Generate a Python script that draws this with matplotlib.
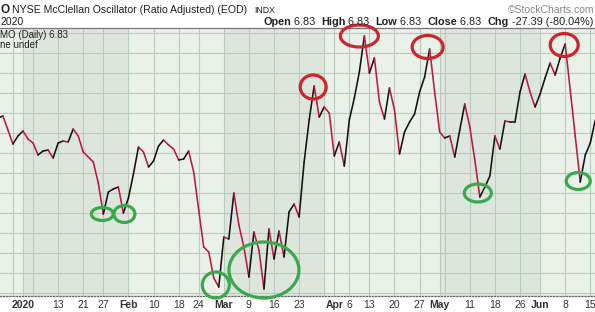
import numpy as np
import matplotlib
matplotlib.use('Agg')
import matplotlib.pyplot as plt
from matplotlib.collections import LineCollection
from matplotlib.patches import Ellipse
from matplotlib.transforms import Affine2D, ScaledTranslation

plt.rcParams['font.family'] = ['Liberation Sans', 'DejaVu Sans']

# ---------------- data ----------------
start_day = -5  # trading-day index of first value (0 = 2 Jan 2020)
mo_values = [17.5, 18.5, 11.5, 4.5, 8.5,
             11, 7, 5, -1, 1, 1.5, -2.5, 5, 6, 5.5, 12, 8.5, 0.5, -2, -4.5, -15, -30.5, -19.5, -18, -17, -30,
             -22.5, -10.5, 3, 0.5, -7, -4, 3.5, 6.5, 4, 2, -3.5, -3, 1, -9.5, -28.5, -47, -49.5, -62.5, -67,
             -42, -43, -20, -36, -47, -62, -39.5, -48.5, -68, -38, -53, -39, -52, -29.5, -25.5, -32, -4.5,
             16.5, 33.5, 18, 23, 20, -1.5, 5.5, -6.5, 16.5, 27.5, 40.5, 58.5, 40, 47.5, 25.5, 17, 32.5, 21.5,
             -0.5, 10.5, 15.5, 19.5, 30.5, 38, 52, 30.5, 10.5, 7.5, 8.5, -2, 11.5, 24.5, 13, -3.5, -22, -17,
             -11.5, 8.5, 2, 16, 15.5, 15.5, 30.5, 39.5, 30.5, 23, 29.5, 37.5, 45, 39, 47.5, 54.5, 31.5, 8.5,
             -14.5, -1, 5, 16.5]

tick_days = [0, 7, 12, 16, 21, 26, 31, 35, 40, 45, 50, 55, 62, 65, 69, 74, 79, 83, 89, 94, 99, 103, 108, 113]
tick_labels = ['2020', '13', '21', '27', 'Feb', '10', '18', '24', 'Mar', '9', '16', '23',
               'Apr', '6', '13', '20', '27', 'May', '11', '18', '26', 'Jun', '8', '15']
month_labels = ['2020', 'Feb', 'Mar', 'Apr', 'May', 'Jun']
extra_grid_days = [-2, 2, 60, 84]
shaded_months = [(0, 21), (40, 60), (83, 103)]
peak_days = [58, 68, 81, 108]
trough_days = [16, 20, 39, 48, 91, 111]

# annotation shapes (width px, height px, dx px, dy px up)
peak_shapes = [(26, 24, -1, -1), (38, 22, -5, 0), (31, 23, -2, 2), (28, 23, -1, -1)]
trough_shapes = [(22, 13, -1, 0), (21, 17, 1, -1), (27, 26, -3, 2), (70, 56, 0, 19), (27, 18, -2, 4), (24, 17, -2, 1)]

days = np.arange(start_day, start_day + len(mo_values))
vals = np.array(mo_values, dtype=float)

W, H = 595, 312
fig = plt.figure(figsize=(W / 100, H / 100), dpi=100)
fig.patch.set_facecolor('white')

top_px, bot_px = 28, 296
ax = fig.add_axes([0, 1 - bot_px / H, 1, (bot_px - top_px) / H])
ax.set_facecolor('#eaf1e9')
ax.set_xlim(-4.58, 113.94)
ax.set_ylim(-71.5, 62.5)

for a, b in shaded_months:
    ax.axvspan(a, b, color='#dde6dc', lw=0, zorder=0)

for d in sorted(set(tick_days + extra_grid_days)):
    ax.axvline(d, color='#b9ccb9', lw=0.8, zorder=1)
for yv in range(-70, 61, 10):
    ax.axhline(yv, color='#b9ccb9', lw=0.8, zorder=1)

pts = np.column_stack([days, vals])
segs = np.stack([pts[:-1], pts[1:]], axis=1)
cols = ['#111111' if vals[k + 1] >= vals[k] else '#c0183f' for k in range(len(vals) - 1)]
lc = LineCollection(segs, colors=cols, linewidths=1.15, zorder=3, capstyle='round', joinstyle='round')
ax.add_collection(lc)

def ring(day, shape, color):
    w, h, dx, dy = shape
    v = vals[list(days).index(day)]
    tr = Affine2D().translate(dx, dy) + ScaledTranslation(day, v, ax.transData)
    e = Ellipse((0, 0), w, h, transform=tr, fill=False, edgecolor=color, lw=2.3, zorder=4, clip_on=False)
    ax.add_artist(e)

for d, s in zip(peak_days, peak_shapes):
    ring(d, s, '#d0242c')
for d, s in zip(trough_days, trough_shapes):
    ring(d, s, '#3aa84c')

ax.set_xticks(tick_days)
ax.set_xticklabels(tick_labels, fontsize=7.5, color='#333333')
for t in ax.get_xticklabels():
    if t.get_text() in month_labels:
        t.set_fontweight('bold')
ax.tick_params(axis='x', length=0, pad=3)
ax.set_yticks([])
for s in ['left', 'right']:
    ax.spines[s].set_visible(False)
ax.spines['top'].set_color('#777777')
ax.spines['top'].set_linewidth(0.9)
ax.spines['bottom'].set_color('#666666')
ax.spines['bottom'].set_linestyle((0, (1, 1.5)))
ax.spines['bottom'].set_linewidth(0.9)

def ftext(x, y, s, **kw):
    return fig.text(x / W, 1 - y / H, s, **kw)

fig.canvas.draw()
rend = fig.canvas.get_renderer()

def fit_text(x, y, s, target_w, **kw):
    t = ftext(x, y, s, fontsize=8, **kw)
    w = t.get_window_extent(rend).width
    t.set_fontsize(8 * target_w / w)
    return t

# in-plot labels
ftext(0, 35, 'MO (Daily) 6.83', fontsize=7, color='#222222', va='center')
ftext(0, 45, 'ne undef', fontsize=7, color='#222222', va='center')

# header
ftext(0.5, 10, 'O', fontsize=8.5, fontweight='bold', color='#222222', va='center')
fit_text(12, 10, 'NYSE McClellan Oscillator (Ratio Adjusted) (EOD)', 236, color='#222222', va='center')
ftext(254, 10.5, 'INDX', fontsize=6.3, color='#222222', va='center')
ftext(594, 10, '\u00a9StockCharts.com', fontsize=7.5, color='#8a8a8a', va='center', ha='right')
ftext(0, 22, '2020', fontsize=7.5, color='#222222', va='center')

pieces = [('Open', True), (' 6.83  ', False), ('High', True), (' 6.83  ', False), ('Low', True),
          (' 6.83  ', False), ('Close', True), (' 6.83  ', False), ('Chg', True), (' -27.39 (-80.04%)', False)]
total = 0
tmp = []
for s, b in pieces:
    t = ftext(0, 22, s, fontsize=8, fontweight='bold' if b else 'normal')
    total += t.get_window_extent(rend).width
    tmp.append(t)
for t in tmp:
    t.remove()
fs = 8 * (595 - 263) / total
x = 263
for s, b in pieces:
    t = ftext(x, 22, s, fontsize=fs, fontweight='bold' if b else 'normal', color='#222222', va='center')
    x += t.get_window_extent(rend).width

fig.savefig('out.png', dpi=100)
